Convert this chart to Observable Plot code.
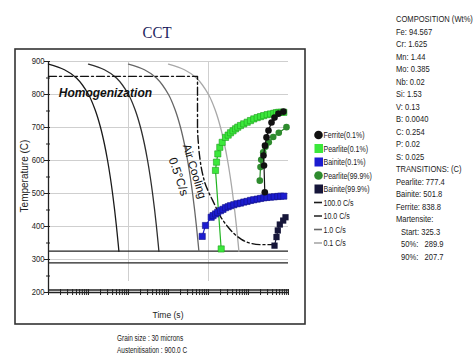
<!DOCTYPE html>
<html><head><meta charset="utf-8">
<script src="https://cdn.jsdelivr.net/npm/d3@7"></script>
<script src="https://cdn.jsdelivr.net/npm/@observablehq/plot@0.6"></script>
<style>
body{margin:0;background:#fff;}
#chart{position:relative;width:474px;height:357px;overflow:hidden;}
svg text{font-family:"Liberation Sans",Arial,sans-serif;}
</style></head><body><div id="chart"></div>
<script>
// ---------- data ----------
const xTickValues = [0.1, 10, 1000, 100000];
const xTickLabels = ["0.1", "10", "1000", "100000"];
const yTickValues = [200, 300, 400, 500, 600, 700, 800, 900];
const yMinorValues = [250, 350, 450, 550, 650, 750, 850];

// cooling curves (time s, temperature C)
const coolTemps = [892, 875, 850, 800, 750, 700, 650, 600, 550, 500, 450, 400, 350, 325];
const cool100Times = [0.1, 0.25, 0.5, 1, 1.5, 2, 2.5, 3, 3.5, 4, 4.5, 5, 5.5, 5.75];
const cool10Times = [1, 2.5, 5, 10, 15, 20, 25, 30, 35, 40, 45, 50, 55, 57.5];
const cool1Times = [10, 25, 50, 100, 150, 200, 250, 300, 350, 400, 450, 500, 550, 575];
const cool01Times = [100, 250, 500, 1000, 1500, 2000, 2500, 3000, 3500, 4000, 4500, 5000, 5500, 5750];

// homogenization + air cooling path
const airTimes = [0.1, 531, 531, 560, 620, 760, 1000, 1260, 2000, 3000, 4200, 6500, 9400, 20000, 42000];
const airTemps = [855, 855, 700, 650, 600, 545, 505, 480, 430, 400, 380, 362, 352, 345, 345];

// Pearlite (0.1%)
const pearl01Times = [2077, 1496, 1585, 1709, 1917, 2200, 2661, 3100, 3548, 4100, 4732, 5400, 6310, 7600, 9279, 11200, 13569, 16500, 19953, 24000, 29342, 35500, 42900, 50000, 57200, 66000, 76300];
const pearl01Temps = [332, 570, 595, 620, 640, 655, 670, 677, 684, 690, 696, 701, 706, 711, 716, 721, 726, 730, 733, 736, 739, 741, 743, 745, 746, 746, 746];

// Bainite (0.1%)
const bain01Times = [696, 841, 1168, 1300, 1496, 1700, 1995, 2300, 2661, 3100, 3548, 4300, 5218, 6300, 7630, 9200, 11220, 13500, 16500, 20000, 24130, 29000, 35480, 44000, 54000, 64000, 76300];
const bain01Temps = [370, 403, 428, 433, 438, 443, 448, 452, 457, 460, 463, 466, 469, 471, 474, 476, 479, 481, 483, 485, 487, 488, 489, 490, 491, 492, 492];

// Ferrite (0.1%)
const ferr01Times = [25550, 24400, 23700, 25850, 28200, 31600, 37600, 44700, 56200, 75000];
const ferr01Temps = [504, 585, 615, 645, 670, 691, 715, 730, 742, 748];

// Pearlite (99.9%)
const pearl999Times = [19160, 19950, 20770, 23310, 26600, 32180, 41450, 57200, 89100];
const pearl999Temps = [539, 580, 602, 625, 642, 655, 671, 684, 701];

// Bainite (99.9%)
const bain999Times = [44700, 50100, 54000, 60600, 73700, 84100];
const bain999Temps = [342, 368, 388, 406, 418, 428];

// Martensite lines
const martensiteTemps = [325.3, 289.9, 207.7];

// annotations
const annotTexts = ["Homogenization", "Air Cooling", "0.5°C/s"];
const annotTimes = [0.18, 447, 178];
const annotTemps = [803, 567, 551];

// legend / side text
const legendLabels = ["Ferrite(0.1%)", "Pearlite(0.1%)", "Bainite(0.1%)", "Pearlite(99.9%)", "Bainite(99.9%)", "100.0 C/s", "10.0 C/s", "1.0 C/s", "0.1 C/s"];
const compositionLines = ["COMPOSITION (Wt%)", "Fe: 94.567", "Cr: 1.625", "Mn: 1.44", "Mo: 0.385", "Nb: 0.02", "Si: 1.53", "V: 0.13", "B: 0.0040", "C: 0.254", "P: 0.02", "S: 0.025", "TRANSITIONS: (C)", "Pearlite: 777.4", "Bainite: 501.8", "Ferrite: 838.8", "Martensite:", "Start: 325.3", "50%:   289.9", "90%:   207.7"];
const captionLines = ["Grain size : 30 microns", "Austenitisation : 900.0 C"];

// ---------- helpers ----------
const zip = (ts, vs) => ts.map((t, i) => ({t, v: vs[i]}));
const minorX = [];
for (let e = -1; e <= 5; e++) for (let k = 1; k <= 9; k++) { const v = k * 10 ** e; if (v <= 100000 * 1.0001) minorX.push(+v.toPrecision(3)); }

const C = {
  black: "#111", green: "#3be83b", greenLine: "#22b422", greenStroke: "#1e9e1e",
  blue: "#1c1cd0", blueStroke: "#10108a", dkgreen: "#2e8b2e", navy: "#16163a",
  c100: "#1a1a1a", c10: "#2e2e2e", c1: "#666", c01: "#a8a8a8", grid: "#cfcfcf"
};
const FONT = '"Liberation Sans",Arial,sans-serif';

const plot = Plot.plot({
  width: 474, height: 357,
  marginLeft: 48, marginRight: 186, marginTop: 61, marginBottom: 65,
  x: {type: "log", domain: [0.1, 100000]},
  y: {domain: [200, 900]},
  style: {fontFamily: FONT, fontSize: "9px", background: "transparent", color: "#222"},
  marks: [
    // grid
    Plot.ruleY(yTickValues.slice(1), {y: d => d, x1: 0.1, x2: 100000, stroke: C.grid, strokeWidth: 1}),
    Plot.ruleX([10, 1000], {x: d => d, y1: 200, y2: 900, insetTop: -11, stroke: C.grid, strokeWidth: 1}),
    // martensite lines
    Plot.ruleY(martensiteTemps, {y: d => d, x1: 0.1, x2: 100000, stroke: "#222", strokeWidth: 1.4}),
    // axes lines + ticks
    Plot.ruleY([200], {y: d => d, x1: 0.1, x2: 100000, stroke: "#222", strokeWidth: 1.3}),
    Plot.ruleX([0.1], {x: d => d, y1: 200, y2: 900, stroke: "#222", strokeWidth: 1.3}),
    Plot.ruleX(minorX, {x: d => d, y1: 200, y2: 200, insetTop: -3, insetBottom: -3, stroke: "#222", strokeWidth: 1}),
    Plot.ruleY(yTickValues, {y: d => d, x1: 0.1, x2: 0.1, insetLeft: -4, insetRight: -2, stroke: "#222", strokeWidth: 1}),
    Plot.ruleY(yMinorValues, {y: d => d, x1: 0.1, x2: 0.1, insetLeft: -2, insetRight: -2, stroke: "#222", strokeWidth: 1}),
    Plot.axisX({ticks: xTickValues, tickFormat: (d, i) => xTickLabels[i], tickSize: 0, tickPadding: 5, label: null, fontSize: 9, fill: "#222"}),
    Plot.axisY({ticks: yTickValues, tickSize: 0, tickPadding: 4, label: null, fontSize: 9, fill: "#222"}),
    // cooling curves
    Plot.line(zip(cool01Times, coolTemps), {x: "t", y: "v", stroke: C.c01, strokeWidth: 1.3, curve: "catmull-rom"}),
    Plot.line(zip(cool1Times, coolTemps), {x: "t", y: "v", stroke: C.c1, strokeWidth: 1.3, curve: "catmull-rom"}),
    Plot.line(zip(cool10Times, coolTemps), {x: "t", y: "v", stroke: C.c10, strokeWidth: 1.3, curve: "catmull-rom"}),
    Plot.line(zip(cool100Times, coolTemps), {x: "t", y: "v", stroke: C.c100, strokeWidth: 1.3, curve: "catmull-rom"}),
    // air cooling
    Plot.line(zip(airTimes, airTemps), {x: "t", y: "v", stroke: "#111", strokeWidth: 1.4, strokeDasharray: "8,3,2,3", curve: "monotone-x"}),
    // transformation curves
    Plot.line(zip(pearl01Times, pearl01Temps), {x: "t", y: "v", stroke: C.greenLine, strokeWidth: 1.2}),
    Plot.dot(zip(pearl01Times, pearl01Temps), {x: "t", y: "v", symbol: "square", r: 3.5, fill: C.green, stroke: C.greenStroke, strokeWidth: 0.6}),
    Plot.line(zip(bain01Times, bain01Temps), {x: "t", y: "v", stroke: C.blue, strokeWidth: 1.2}),
    Plot.dot(zip(bain01Times, bain01Temps), {x: "t", y: "v", symbol: "square", r: 3.5, fill: C.blue, stroke: C.blueStroke, strokeWidth: 0.6}),
    Plot.line(zip(pearl999Times, pearl999Temps), {x: "t", y: "v", stroke: C.dkgreen, strokeWidth: 1.2}),
    Plot.dot(zip(pearl999Times, pearl999Temps), {x: "t", y: "v", r: 3.3, fill: C.dkgreen}),
    Plot.line(zip(ferr01Times, ferr01Temps), {x: "t", y: "v", stroke: C.black, strokeWidth: 1.2}),
    Plot.dot(zip(ferr01Times, ferr01Temps), {x: "t", y: "v", r: 3.3, fill: C.black}),
    Plot.line(zip(bain999Times, bain999Temps), {x: "t", y: "v", stroke: C.navy, strokeWidth: 1.2}),
    Plot.dot(zip(bain999Times, bain999Temps), {x: "t", y: "v", symbol: "square", r: 3.5, fill: C.navy}),
    // annotations
    Plot.text([0], {x: annotTimes[0], y: annotTemps[0], text: () => annotTexts[0], textAnchor: "start", fontSize: 12, fontWeight: "bold", fontStyle: "italic", fill: "#111"}),
    Plot.text([0], {x: annotTimes[1], y: annotTemps[1], text: () => annotTexts[1], rotate: 73, fontSize: 11.5, fill: "#111"}),
    Plot.text([0], {x: annotTimes[2], y: annotTemps[2], text: () => annotTexts[2], rotate: 71, fontSize: 12, fill: "#111"})
  ]
});

document.getElementById("chart").appendChild(plot);
const svg = d3.select(plot);
svg.style("position", "absolute").style("left", "0px").style("top", "0px");

// condense axis tick labels (the reference uses a narrow face)
svg.selectAll('g[aria-label$="tick label"] text').each(function () {
  const t = this.getAttribute("transform") || "";
  this.setAttribute("transform", t + " scale(0.85,1)");
});

// helper for condensed text
function ctext(x, y, s, size, sx, anchor = "start", fill = "#1a1a1a") {
  return svg.append("text").attr("transform", `translate(${x},${y}) scale(${sx},1)`)
    .attr("text-anchor", anchor).attr("xml:space", "preserve")
    .style("font-size", size + "px").style("white-space", "pre").attr("fill", fill).text(s);
}

// frame
svg.append("rect").attr("x", 15).attr("y", 49).attr("width", 290).attr("height", 275)
  .attr("fill", "none").attr("stroke", "#333").attr("stroke-width", 1.6);

// title
ctext(157, 38, "CCT", 17.5, 0.85, "middle", "#1c1c5c").style("font-family", '"Liberation Serif","Times New Roman",serif');

// axis labels
ctext(168, 318, "Time (s)", 9.5, 0.9, "middle");
svg.append("text").attr("transform", "translate(28,176) rotate(-90)").attr("text-anchor", "middle")
  .style("font-size", "10px").attr("fill", "#222").text("Temperature (C)");

// caption
captionLines.forEach((s, i) => ctext(117, 341 + i * 12, s, 9, 0.72));

// legend
const legendKinds = [
  {type: "circle", fill: C.black}, {type: "square", fill: C.green}, {type: "square", fill: C.blue},
  {type: "circle", fill: C.dkgreen}, {type: "square", fill: C.navy},
  {type: "line", stroke: C.c100}, {type: "line", stroke: C.c10}, {type: "line", stroke: C.c1}, {type: "line", stroke: C.c01}
];
legendLabels.forEach((lab, i) => {
  const y = 135 + i * 13.5, k = legendKinds[i];
  if (k.type === "circle") svg.append("circle").attr("cx", 318.5).attr("cy", y).attr("r", 4.3).attr("fill", k.fill);
  else if (k.type === "square") svg.append("rect").attr("x", 314.5).attr("y", y - 4.5).attr("width", 8.5).attr("height", 9).attr("fill", k.fill);
  else svg.append("line").attr("x1", 314).attr("x2", 322).attr("y1", y).attr("y2", y).attr("stroke", k.stroke).attr("stroke-width", 1.6);
  ctext(323.5, y + 3, lab, 8.8, 0.8);
});

// composition column
compositionLines.forEach((s, i) => {
  const indent = i >= 17 ? 5 : 0;
  ctext(396 + indent, 22 + i * 12.5, s, 8.6, 0.88);
});
</script></body></html>
